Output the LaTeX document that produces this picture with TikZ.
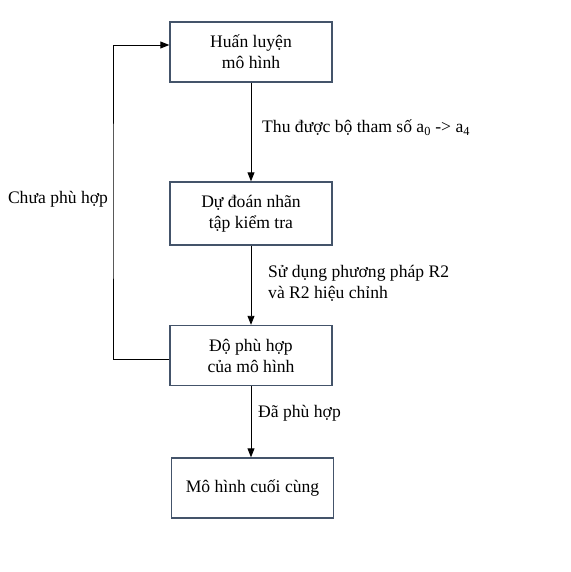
\documentclass[tikz,border=0pt]{standalone}
\usepackage{fontspec}
\setmainfont{Liberation Serif}
\usetikzlibrary{calc,arrows.meta}
\definecolor{boxline}{HTML}{44546A}

\begin{document}
\begin{tikzpicture}[x=1pt,y=-1pt,
    font=\fontsize{17.6}{21}\selectfont,
    stage/.style={draw=boxline,line width=1.4pt,minimum width=162pt,minimum height=60pt,align=center,inner sep=2pt},
    flow/.style={draw,line width=0.9pt,-{Triangle[width=7pt,length=9pt]}},
    note/.style={inner sep=0pt,anchor=west,align=left}]
  \useasboundingbox (0,0) rectangle (570,572);

  %% Stages of the procedure
  \node[stage] (TRAIN)   at (251,52)    {Huấn luyện\\mô hình};
  \node[stage,minimum height=63pt] (PREDICT) at (251,213.5) {Dự đoán nhãn\\tập kiểm tra};
  \node[stage] (FIT)     at (251,355.5) {Độ phù hợp\\của mô hình};
  \node[stage] (FINAL)   at (252.5,488) {Mô hình cuối cùng};

  %% Arrows going down
  \draw[flow] (TRAIN) -- (PREDICT);
  \draw[flow] (PREDICT) -- (FIT);
  \draw[flow] (FIT.south) -- (FIT.south |- FINAL.north);

  %% Labels next to the arrows
  \node[note] (COEF)  at (262,128) {Thu được bộ tham số a\textsubscript{0} -> a\textsubscript{4}};
  \node[note] (R2)    at (268,283.5) {Sử dụng phương pháp R2\\và R2 hiệu chỉnh};
  \node[note] (GOOD)  at (258,413) {Đã phù hợp};

  %% Going back when the model does not fit
  \coordinate (LOOP) at (113,200);
  \draw[flow] ($(FIT.west)+(0,4)$) -| (LOOP) |- ($(TRAIN.west)+(0,-7)$);
  \node (BAD) at (58,199) {Chưa phù hợp};
\end{tikzpicture}
\end{document}
